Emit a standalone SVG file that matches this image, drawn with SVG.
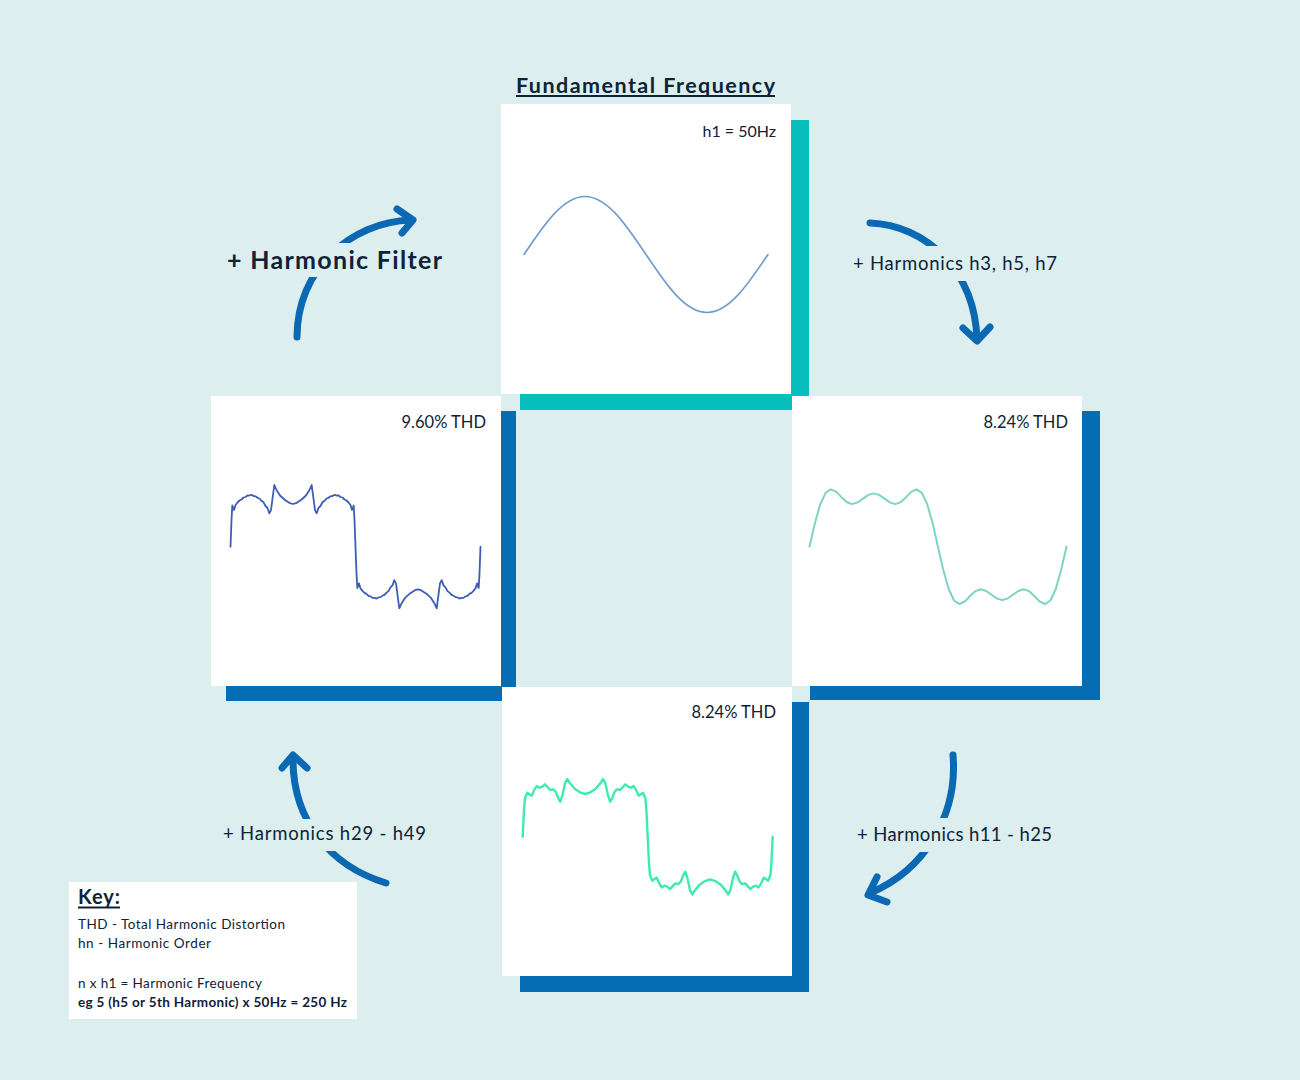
<svg xmlns="http://www.w3.org/2000/svg" width="1300" height="1080" viewBox="0 0 1300 1080">
<style>
.bg{fill:#DCEEEE}
.panel{fill:#FFFFFF}
.sh-teal{fill:#06BFBC}
.sh-blue{fill:#066CB3}
.t{font-family:"Lato","Liberation Sans",sans-serif;fill:#0E2238}
.thd{font-size:16.5px;text-anchor:end}
.lbl{font-size:18.5px}
.uline{stroke:#0E2238;stroke-width:1.8}
.wave{fill:none;stroke-linejoin:round;stroke-linecap:round}
.conn{fill:none;stroke:#0A69B2;stroke-width:7;stroke-linecap:round;stroke-linejoin:round}
.key{font-size:13.5px}
</style>
<defs>
<mask id="gaps" maskUnits="userSpaceOnUse" x="0" y="0" width="1300" height="1080">
<rect x="0" y="0" width="1300" height="1080" fill="#fff"/>
<rect x="200" y="243" width="260" height="34" fill="#000"/>
<rect x="840" y="246" width="230" height="35" fill="#000"/>
<rect x="840" y="818" width="230" height="34" fill="#000"/>
<rect x="210" y="819" width="230" height="32" fill="#000"/>
</mask>
</defs>
<rect class="bg" x="0" y="0" width="1300" height="1080"/>

<g id="shadows">
<rect class="sh-teal" x="520" y="120" width="289" height="290"/>
<rect class="sh-blue" x="226" y="411" width="290" height="290"/>
<rect class="sh-blue" x="810" y="411" width="290" height="289"/>
<rect class="sh-blue" x="520" y="702" width="289" height="290"/>
</g>

<g id="node-fundamental">
<rect class="panel" x="501" y="104" width="290" height="290"/>
<text class="t" x="776" y="137" font-size="16" text-anchor="end">h1 = 50Hz</text>
<path class="wave" stroke="#6E9AD2" stroke-width="1.6" d="M524,254.5 C543.9,224.8 562.9,196.5 585,196.5 C607.1,196.5 626.1,224.8 646,254.5 C665.9,284.2 684.9,312.5 707,312.5 C729.1,312.5 748.1,284.2 768,254.5"/>
</g>

<g id="node-h3-h5-h7">
<rect class="panel" x="792" y="396" width="290" height="290"/>
<text class="t thd" x="1068" y="428">8.24% THD</text>
<polyline class="wave" stroke="#7ED4C4" stroke-width="2" points="809.5,546.7 814.9,523.3 820.2,504.4 825.6,492.9 830.9,489.3 836.3,491.9 841.6,497.4 847,502.3 852.3,504.1 857.7,502.4 863,498.6 868.4,494.9 873.7,493.4 879.1,494.9 884.5,498.6 889.8,502.4 895.2,504.1 900.5,502.3 905.9,497.4 911.2,491.9 916.6,489.3 921.9,492.9 927.3,504.4 932.6,523.3 938,546.7 943.3,570.1 948.7,589 954,600.5 959.4,604.1 964.8,601.5 970.1,596 975.5,591.1 980.8,589.3 986.2,591 991.5,594.8 996.9,598.5 1002.2,600 1007.6,598.5 1012.9,594.8 1018.3,591 1023.6,589.3 1029,591.1 1034.3,596 1039.7,601.5 1045,604.1 1050.4,600.5 1055.8,589 1061.1,570.1 1066.5,546.7"/>
</g>

<g id="node-h29-h49">
<rect class="panel" x="211" y="396" width="290" height="290"/>
<text class="t thd" x="486" y="428">9.60% THD</text>
<polyline class="wave" stroke="#3D5EB4" stroke-width="1.8" points="230.5,546.7 231.5,520 232.3,505.5 234,510 235.5,505 237.5,502.5 239.5,500.5 241.5,499.5 243.5,497.5 245.5,497 247.5,495.5 249.5,495.5 251.5,494.8 253.5,496 255.5,496.3 257.5,497.8 259.5,498.5 261.5,500.8 263.5,502.3 265.5,506 267.5,508 269.3,513.3 271,510 274.3,485 276.5,490 280,495.5 285,500 290,503.2 293,504 296,503.2 301,500 306,495.5 309.5,490 311.7,485 315,510 316.7,513.3 318.5,508 320.5,506 322.5,502.3 324.5,500.8 326.5,498.5 328.5,497.8 330.5,496.3 332.5,496 334.5,494.8 336.5,495.5 338.5,495.5 340.5,497 342.5,497.5 344.5,499.5 346.5,500.5 348.5,502.5 350.5,505 352,510 353.7,505.5 354.5,520 355.5,546.7 356.5,573.4 357.3,587.9 359,583.4 360.5,588.4 362.5,590.9 364.5,592.9 366.5,593.9 368.5,595.9 370.5,596.4 372.5,597.9 374.5,597.9 376.5,598.6 378.5,597.4 380.5,597.1 382.5,595.6 384.5,594.9 386.5,592.6 388.5,591.1 390.5,587.4 392.5,585.4 394.3,580.1 396,583.4 399.3,608.4 401.5,603.4 405,597.9 410,593.4 415,590.2 418,589.4 421,590.2 426,593.4 431,597.9 434.5,603.4 436.7,608.4 440,583.4 441.7,580.1 443.5,585.4 445.5,587.4 447.5,591.1 449.5,592.6 451.5,594.9 453.5,595.6 455.5,597.1 457.5,597.4 459.5,598.6 461.5,597.9 463.5,597.9 465.5,596.4 467.5,595.9 469.5,593.9 471.5,592.9 473.5,590.9 475.5,588.4 477,583.4 478.7,587.9 479.5,573.4 480.5,546.7"/>
</g>

<g id="node-h11-h25">
<rect class="panel" x="502" y="687" width="290" height="289"/>
<text class="t thd" x="776" y="718">8.24% THD</text>
<polyline class="wave" stroke="#3DEBB0" stroke-width="2.4" points="522.7,836.7 524,810 525,798.3 527.3,792.7 529.3,794.3 531.7,795.7 534.3,790 536.7,786 539.3,787.7 542.3,786.7 545,784.3 547.7,787.3 550.3,790 553.3,789.3 555.7,791.7 558.3,798.3 560.3,801.7 562.5,795 565,783.3 567.3,779 570,783.3 575,789 580,792.3 585.2,794 590.4,792.3 595.4,789 600.4,783.3 603.1,779 605.4,783.3 607.9,795 610.1,801.7 612.1,798.3 614.7,791.7 617.1,789.3 620.1,790 622.7,787.3 625.4,784.3 628.1,786.7 631.1,787.7 633.7,786 636.1,790 638.7,795.7 641.1,794.3 643.1,792.7 645.4,798.3 646.4,810 647.7,836.7 649,863.4 650,875.1 652.3,880.7 654.3,879.1 656.7,877.7 659.3,883.4 661.7,887.4 664.3,885.7 667.3,886.7 670,889.1 672.7,886.1 675.3,883.4 678.3,884.1 680.7,881.7 683.3,875.1 685.3,871.7 687.5,878.4 690,890.1 692.3,894.4 695,890.1 700,884.4 705,881.1 710.2,879.4 715.4,881.1 720.4,884.4 725.4,890.1 728.1,894.4 730.4,890.1 732.9,878.4 735.1,871.7 737.1,875.1 739.7,881.7 742.1,884.1 745.1,883.4 747.7,886.1 750.4,889.1 753.1,886.7 756.1,885.7 758.7,887.4 761.1,883.4 763.7,877.7 766.1,879.1 768.1,880.7 770.4,875.1 771.4,863.4 772.7,836.7"/>
</g>

<g id="title">
<text class="t" x="516" y="93" font-size="21.5" font-weight="700" textLength="259">Fundamental Frequency</text>
<line class="uline" x1="516" y1="96" x2="775" y2="96"/>
</g>

<g id="connectors">
<g mask="url(#gaps)">
<path class="conn" d="M297,337 C297,270 350,222 411,220"/>
<path class="conn" d="M870,223 C925,225 975,270 977,340"/>
<path class="conn" d="M953,755 C958,815 925,870 870,893"/>
<path class="conn" d="M386,883 C330,866 292,820 293,757"/>
</g>
<polyline class="conn" points="397,209 413,220 402,233"/>
<polyline class="conn" points="963,328 977,341 990,327"/>
<polyline class="conn" points="877,877 868,895 887,902"/>
<polyline class="conn" points="282,768 293,755 307,768"/>
<text class="t" x="227" y="269" font-size="25" font-weight="700" textLength="215">+ Harmonic Filter</text>
<text class="t lbl" x="853" y="270" textLength="204">+ Harmonics h3, h5, h7</text>
<text class="t lbl" x="857" y="841" textLength="195">+ Harmonics h11 - h25</text>
<text class="t lbl" x="223" y="840" textLength="203">+ Harmonics h29 - h49</text>
</g>

<g id="key">
<rect class="panel" x="69" y="882" width="288" height="137"/>
<text class="t" x="78" y="904" font-size="20" font-weight="700" textLength="42">Key:</text>
<line class="uline" x1="78" y1="907.5" x2="120" y2="907.5"/>
<text class="t key" x="78" y="929" textLength="207">THD - Total Harmonic Distortion</text>
<text class="t key" x="78" y="948" textLength="133">hn - Harmonic Order</text>
<text class="t key" x="78" y="988" textLength="184">n x h1 = Harmonic Frequency</text>
<text class="t key" x="78" y="1007" font-weight="700" textLength="269">eg 5 (h5 or 5th Harmonic) x 50Hz = 250 Hz</text>
</g>
</svg>
